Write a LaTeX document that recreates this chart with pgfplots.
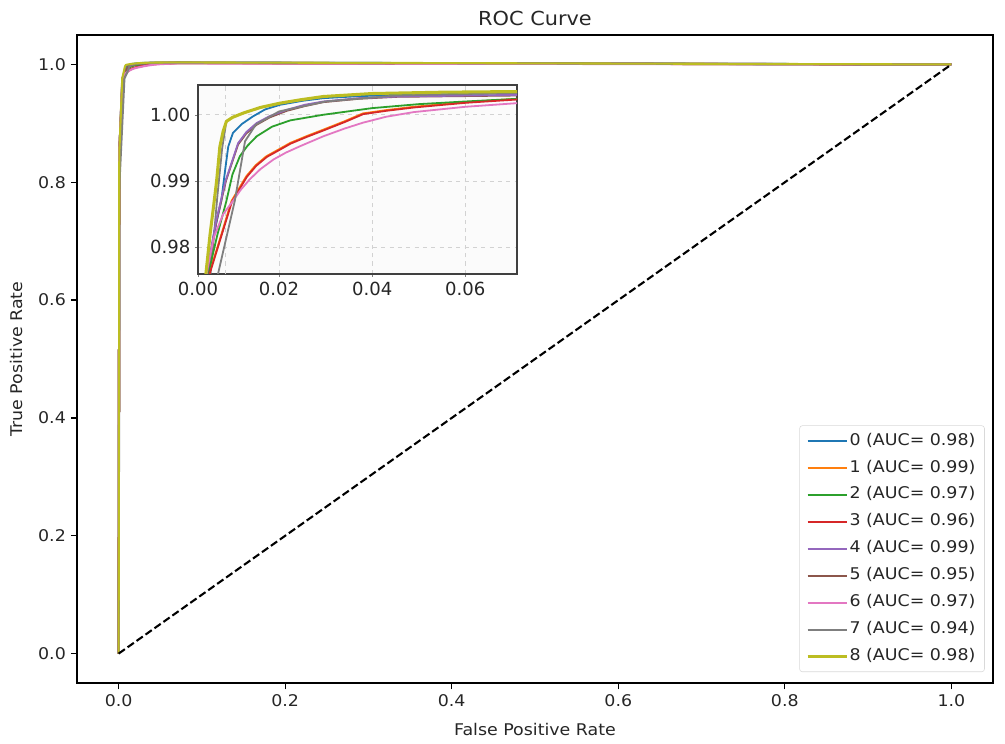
\documentclass[border=0pt]{standalone}
\usepackage{fontspec}
\setmainfont{DejaVu Sans}[FakeStretch=1.08]
\newfontfamily\insetfont{DejaVu Sans}
\usepackage{pgfplots}
\usepackage{pgfplotstable}
\pgfplotsset{compat=1.18}
\definecolor{c0}{HTML}{1F77B4}
\definecolor{c1}{HTML}{FF7F0E}
\definecolor{c2}{HTML}{2CA02C}
\definecolor{c3}{HTML}{D62728}
\definecolor{c4}{HTML}{9467BD}
\definecolor{c5}{HTML}{8C564B}
\definecolor{c6}{HTML}{E377C2}
\definecolor{c7}{HTML}{7F7F7F}
\definecolor{c8}{HTML}{BCBD22}

\pgfplotstableread{
x y
0 0
0.0008 0.85
0.0045 0.976
0.0060 0.982
0.0076 0.987
0.0084 0.9915
0.0091 0.9952
0.0101 0.99725
0.0120 0.9986
0.0144 0.99975
0.0170 1.0008
0.0202 1.0015
0.0250 1.0021
0.0295 1.0025
0.0370 1.0028
0.0453 1.0030
0.0711 1.00325
1 1
}\sZero
\pgfplotstableread{
x y
0 0
0.0008 0.85
0.0050 0.976
0.0072 0.981
0.0098 0.987
0.0130 0.99075
0.0150 0.9924
0.0173 0.99375
0.0200 0.9948
0.0224 0.99575
0.0260 0.9968
0.0295 0.99775
0.0340 0.9990
0.0380 1.0002
0.0430 1.0007
0.0489 1.0012
0.0600 1.0019
0.0711 1.0024
1 1
}\sOne
\pgfplotstableread{
x y
0 0
0.0008 0.85
0.0048 0.976
0.0068 0.982
0.0087 0.987
0.0100 0.9910
0.0116 0.99375
0.0132 0.9953
0.0152 0.99675
0.0185 0.9982
0.0224 0.99915
0.0295 1.0000
0.0400 1.0010
0.0500 1.0016
0.0600 1.0020
0.0711 1.0024
1 1
}\sTwo
\pgfplotstableread{
x y
0 0
0.0008 0.85
0.0051 0.976
0.0073 0.981
0.0099 0.9869
0.0131 0.99065
0.0151 0.9923
0.0174 0.99365
0.0201 0.9947
0.0225 0.99565
0.0261 0.9967
0.0296 0.99765
0.0341 0.9989
0.0381 1.0001
0.0431 1.0006
0.0490 1.0011
0.0600 1.0018
0.0711 1.0023
1 1
}\sThree
\pgfplotstableread{
x y
0 0
0.0008 0.85
0.0045 0.976
0.0065 0.984
0.0085 0.990
0.0112 0.9957
0.0130 0.9974
0.0152 0.99875
0.0180 0.9998
0.0217 1.00075
0.0255 1.0015
0.0295 1.0020
0.0370 1.0025
0.0453 1.00275
0.0711 1.0030
1 1
}\sFour
\pgfplotstableread{
x y
0 0
0.0008 0.85
0.0046 0.976
0.0066 0.984
0.0086 0.990
0.0112 0.9955
0.0130 0.9972
0.0152 0.9985
0.0180 0.9996
0.0217 1.0006
0.0255 1.0013
0.0295 1.0019
0.0370 1.0024
0.0453 1.0027
0.0711 1.0029
1 1
}\sFive
\pgfplotstableread{
x y
0 0
0.0008 0.85
0.0044 0.976
0.0060 0.9815
0.0080 0.985
0.0101 0.987
0.0118 0.9887
0.0137 0.99025
0.0160 0.9918
0.0188 0.99325
0.0215 0.9943
0.0245 0.99525
0.0295 0.99675
0.0340 0.9979
0.0380 0.9988
0.0430 0.9997
0.0489 1.0004
0.0600 1.0012
0.0711 1.00175
1 1
}\sSix
\pgfplotstableread{
x y
0 0
0.0010 0.80
0.0069 0.976
0.0105 0.987
0.0127 0.9960
0.0150 0.9985
0.0200 1.0005
0.0300 1.0020
0.0450 1.0029
0.0711 1.0033
1 1
}\sSeven
\pgfplotstableread{
x y
0.0053 0.976
0.0068 0.988
0.0078 0.995
0.0087 0.999
}\sSevenB
\pgfplotstableread{
x y
0 0
0.0008 0.85
0.0043 0.976
0.0052 0.982
0.0060 0.9865
0.0066 0.9900
0.0073 0.9952
0.0080 0.9975
0.0087 0.9990
0.0100 0.9996
0.0123 1.00025
0.0160 1.0011
0.0202 1.00175
0.0250 1.0023
0.0295 1.00275
0.0400 1.0032
0.0550 1.0034
0.0711 1.0035
1 1
}\sEight

\begin{document}
\begin{tikzpicture}
\begin{axis}[
  name=main,
  scale only axis,
  width=659.5pt, height=466.6pt,
  xmin=-0.05, xmax=1.05, ymin=-0.05, ymax=1.05,
  xtick={0,0.2,0.4,0.6,0.8,1.0},
  ytick={0,0.2,0.4,0.6,0.8,1.0},
  /pgf/number format/assume math mode=true,
  xticklabel style={/pgf/number format/.cd, fixed, fixed zerofill, precision=1},
  yticklabel style={/pgf/number format/.cd, fixed, fixed zerofill, precision=1},
  tick label style={font=\fontsize{11.6}{13}\selectfont, text=black!85},
  label style={font=\fontsize{11.6}{13}\selectfont, text=black!85},
  xlabel style={yshift=-5pt},
  ylabel style={yshift=4pt},
  tick align=outside, xtick pos=bottom, ytick pos=left,
  major tick length=4.5pt,
  axis line style={line width=0.9pt},
  every tick/.style={black, line width=0.9pt},
  xlabel={False Positive Rate}, ylabel={True Positive Rate},
  title={ROC Curve},
  title style={font=\fontsize{13.9}{15}\selectfont, text=black!85, yshift=-3pt},
  legend style={at={(0.991,0.017)}, anchor=south east, draw=gray!30, rounded corners=2pt,
    font=\fontsize{11.6}{13}\selectfont, text=black!85, row sep=5.4pt, inner xsep=5pt, inner ysep=4pt,
    nodes={inner sep=1.5pt, text height=8.5pt, text depth=2.5pt}},
  legend cell align=left,
  legend image code/.code={\draw[#1, line width=1.5pt] (0pt,0pt) -- (28pt,0pt);},
  every axis plot/.append style={line width=1.5pt},
]
\addplot[c0] table[x=x,y=y] {\sZero};
\addlegendentry{0 (AUC= 0.98)}
\addplot[c1] table[x=x,y=y] {\sOne};
\addlegendentry{1 (AUC= 0.99)}
\addplot[c2] table[x=x,y=y] {\sTwo};
\addlegendentry{2 (AUC= 0.97)}
\addplot[c3] table[x=x,y=y] {\sThree};
\addlegendentry{3 (AUC= 0.96)}
\addplot[c4] table[x=x,y=y] {\sFour};
\addlegendentry{4 (AUC= 0.99)}
\addplot[c5] table[x=x,y=y] {\sFive};
\addlegendentry{5 (AUC= 0.95)}
\addplot[c6] table[x=x,y=y] {\sSix};
\addlegendentry{6 (AUC= 0.97)}
\addplot[c7] table[x=x,y=y] {\sSeven};
\addlegendentry{7 (AUC= 0.94)}
\addplot[c8] table[x=x,y=y] {\sEight};
\addlegendentry{8 (AUC= 0.98)}
\addplot[black, dash pattern=on 5.5pt off 2.4pt, forget plot] coordinates {(0,0) (1,1)};
\end{axis}

\coordinate (insetpos) at ([xshift=87.1pt, yshift=294.5pt]main.south west);

\begin{axis}[
  at={(insetpos)}, anchor=south west,
  scale only axis,
  width=229.7pt, height=136.1pt,
  xmin=0.0026, xmax=0.0711, ymin=0.976, ymax=1.0045,
  xtick={0.0026,0.02,0.04,0.06},
  xticklabels={0.00,0.02,0.04,0.06},
  ytick={0.98,0.99,1.00},
  extra x ticks={0.0084},
  extra x tick labels={},
  extra tick style={major tick length=0pt, grid=major},
  /pgf/number format/assume math mode=true,
  yticklabel style={/pgf/number format/.cd, fixed, fixed zerofill, precision=2},
  tick label style={font=\insetfont\fontsize{13}{15}\selectfont, text=black!85},
  scaled ticks=false,
  tick align=outside, xtick pos=bottom, ytick pos=left,
  major tick length=2pt,
  grid=major,
  grid style={dashed, gray!35, line width=0.6pt},
  axis line style={line width=1.1pt, black!75},
  axis background/.style={fill=gray!3},
  every axis plot/.append style={line width=1.3pt, line join=round},
]
\addplot[c7] table[x=x,y=y] {\sSevenB};
\addplot[c0] table[x=x,y=y] {\sZero};
\addplot[c1] table[x=x,y=y] {\sOne};
\addplot[c2] table[x=x,y=y] {\sTwo};
\addplot[c3] table[x=x,y=y] {\sThree};
\addplot[c5] table[x=x,y=y] {\sFive};
\addplot[c4] table[x=x,y=y] {\sFour};
\addplot[c6] table[x=x,y=y] {\sSix};
\addplot[c7] table[x=x,y=y] {\sSeven};
\addplot[c8, line width=2.2pt] table[x=x,y=y] {\sEight};
\end{axis}

\pgfresetboundingbox
\path ([shift={(-55.44pt,-43.2pt)}]main.south west) rectangle ([shift={(8.64pt,25.2pt)}]main.north east);
\end{tikzpicture}
\end{document}
